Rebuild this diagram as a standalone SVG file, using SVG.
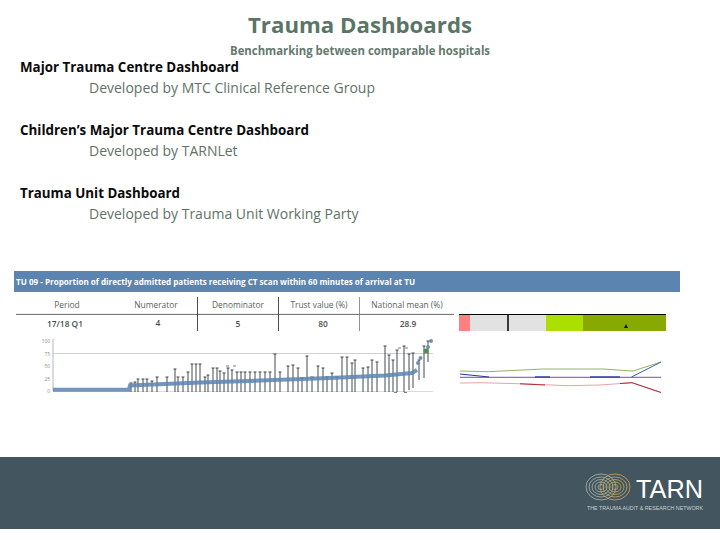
<svg xmlns="http://www.w3.org/2000/svg" width="720" height="540" viewBox="0 0 720 540">
<style>
.h{font-family:"Open Sans","DejaVu Sans",sans-serif;font-weight:700;font-size:14px;fill:#0a0a0a}
.s{font-family:"Open Sans","DejaVu Sans",sans-serif;font-size:14px;fill:#5f7268}
.t{font-family:"Open Sans",sans-serif;font-size:8.4px;fill:#5a5f60;text-anchor:middle}
.v{font-family:"Open Sans",sans-serif;font-size:8.4px;font-weight:600;fill:#4a4f50;text-anchor:middle}
.a{font-family:"Open Sans",sans-serif;font-size:4.8px;fill:#888;text-anchor:end}
.e{stroke:#2c3640;stroke-width:.9;fill:none}
.g{fill:none;stroke-width:.8}
</style>
<rect width="720" height="540" fill="#fff"/>
<g id="title">
<text x="248" y="33" font-family="Open Sans,sans-serif" font-size="22" font-weight="700" fill="#5a7565" textLength="224" lengthAdjust="spacingAndGlyphs">Trauma Dashboards</text>
<text x="230" y="55" font-family="Open Sans,sans-serif" font-size="12.500" font-weight="700" fill="#66796e" textLength="260" lengthAdjust="spacingAndGlyphs">Benchmarking between comparable hospitals</text>
</g>
<g id="list">
<text class="h" x="20" y="72" textLength="219" lengthAdjust="spacingAndGlyphs">Major Trauma Centre Dashboard</text>
<text class="s" x="89" y="93">Developed by MTC Clinical Reference Group</text>
<text class="h" x="20" y="135" textLength="289" lengthAdjust="spacingAndGlyphs">Children’s Major Trauma Centre Dashboard</text>
<text class="s" x="89" y="156">Developed by TARNLet</text>
<text class="h" x="20" y="198" textLength="160" lengthAdjust="spacingAndGlyphs">Trauma Unit Dashboard</text>
<text class="s" x="89" y="219">Developed by Trauma Unit Working Party</text>
</g>
<g id="table">
<rect x="14" y="271" width="666" height="21" fill="#5b84b1"/>
<text x="16" y="285" font-family="Open Sans,sans-serif" font-size="8.600" font-weight="700" fill="#fff" textLength="399" lengthAdjust="spacingAndGlyphs">TU 09 - Proportion of directly admitted patients receiving CT scan within 60 minutes of arrival at TU</text>
<path d="M16 314.400H454" stroke="#444" stroke-width=".8"/>
<path d="M197.500 297V331M278.500 297V331" stroke="#222" stroke-width=".8"/>
<path d="M359.500 297V331" stroke="#777" stroke-width=".8"/>
<text class="t" x="67" y="308">Period</text><text class="t" x="156" y="308">Numerator</text><text class="t" x="238" y="308">Denominator</text><text class="t" x="319" y="308">Trust value (%)</text><text class="t" x="407" y="308">National mean (%)</text>
<text class="v" x="65" y="327">17/18 Q1</text><text class="v" x="158" y="326">4</text><text class="v" x="238" y="327">5</text><text class="v" x="323" y="327">80</text><text class="v" x="408" y="327">28.9</text>
</g>
<g id="bar">
<rect x="459" y="314" width="11" height="17" fill="#ff8080"/>
<rect x="470" y="314" width="76" height="17" fill="#e2e2e2"/>
<rect x="546" y="314" width="37" height="17" fill="#aadf00"/>
<rect x="583" y="314" width="83" height="17" fill="#88aa00"/>
<path d="M459 314.500H666" stroke="#000" stroke-width="1"/>
<path d="M508 314V331" stroke="#000" stroke-width="1.500"/>
<path d="M624 328H628L626 324Z" fill="#111"/>
</g>
<g id="funnel">
<path d="M53 339V391" stroke="#999" stroke-width=".7"/>
<path d="M53 353.500H433" stroke="#bbb" stroke-width=".7"/>
<path d="M53 391.500H433" stroke="#ccc" stroke-width=".7"/>
<text class="a" x="50" y="343">100</text><text class="a" x="50" y="356">75</text><text class="a" x="50" y="368">50</text><text class="a" x="50" y="381">25</text><text class="a" x="50" y="393">0</text>
<path class="e" d="M131 392V383m-1.500 0h3M135 392V382m-1.500 0h3M138 392V379m-1.500 0h3M143 392V379m-1.500 0h3M147 392V379m-1.500 0h3M152 392V381m-1.500 0h3M157 392V377m-1.500 0h3M167 392V377m-1.500 0h3M175 392V369m-1.500 0h3M178 392V377m-1.500 0h3M183 392V377m-1.500 0h3M188 392V372m-1.500 0h3M192 392V364m-1.500 0h3M196 392V364m-1.500 0h3M200 392V364m-1.500 0h3M205 392V377m-1.500 0h3M208 392V375m-1.500 0h3M213 392V368m-1.500 0h3M217 392V368m-1.500 0h3M220 392V371m-1.500 0h3M224 392V373m-1.500 0h3M228 392V368m-1.500 0h3M232 392V370m-1.500 0h3M237 392V372m-1.500 0h3M241 392V372m-1.500 0h3M245 392V372m-1.500 0h3M250 392V372m-1.500 0h3M255 392V372m-1.500 0h3M260 392V372m-1.500 0h3M265 392V372m-1.500 0h3M270 392V372m-1.500 0h3M275 392V354m-1.500 0h3M280 392V372m-1.500 0h3M288 392V366m-1.500 0h3M293 392V365m-1.500 0h3M298 392V368m-1.500 0h3M302 392V378m-1.500 0h3M307 392V356m-1.500 0h3M312 392V377m-1.500 0h3M318 392V366m-1.500 0h3M323 392V368m-1.500 0h3M327 392V377m-1.500 0h3M332 392V373m-1.500 0h3M337 392V377m-1.500 0h3M342 392V357m-1.500 0h3M347 392V357m-1.500 0h3M352 392V363m-1.500 0h3M355 392V360m-1.500 0h3M363 392V368m-1.500 0h3M368 392V367m-1.500 0h3M372 392V360m-1.500 0h3M377 392V362m-1.500 0h3M385 392V346m-1.500 0h3M389 392V355m-1.500 0h3M393 392V360m-1.500 0h3M397 392V350m-1.500 0h3M404 392V346m-1.500 0h3M409 390V354m-1.500 0h3M413 388V353m-1.500 0h3M419 380V360m-1.500 0h3M424 378V346m-1.500 0h3M428 362V341m-1.500 0h3"/>
<path d="M394 392.500h3M404 392.500h3M405 348h3M398 348h3M226 366h3M233 366h3" stroke="#3c4650" stroke-width=".7"/>
<path d="M53 389.800H129L130 385.500L200 382.500L260 380.500L330 378L385 375.500L412 373L417 370" fill="none" stroke="#5b84b1" stroke-opacity=".85" stroke-width="4"/>
<g fill="#6d91b8"><circle cx="418" cy="363" r="2"/><circle cx="420.500" cy="358" r="2"/><circle cx="428" cy="347" r="2"/><circle cx="431" cy="341" r="2"/></g>
<circle cx="426" cy="351" r="2.500" fill="#4e8f4e"/>
</g>
<g id="trends" fill="none">
<path d="M460 371L488 371.700L543 369L603 369L633 371L661 362" stroke="#88aa55" stroke-width=".9"/>
<path d="M460 374L489 377" stroke="#2233aa" stroke-width="1"/>
<path d="M460 377.300H661" stroke="#552288" stroke-width=".8"/>
<path d="M535 377H550M590 377H620" stroke="#3344aa" stroke-width="1.300"/>
<path d="M631.500 377L661 362" stroke="#336699" stroke-width="1"/>
<path d="M460 383L480 382.700L530 384L567 385.700L600 385L632 382.700L661 392.500" stroke="#e29aa0" stroke-width=".9"/>
<path d="M520 383.800L545 385M620 383.500L632 382.700L661 392.500" stroke="#aa1a2a" stroke-width=".9"/>
</g>
<g id="footer">
<rect y="457" width="720" height="72" fill="#43565f"/>
<g class="g" stroke="#a9b8a8"><ellipse cx="601" cy="487" rx="15" ry="13"/><ellipse cx="601" cy="487" rx="12" ry="10"/><ellipse cx="601" cy="487" rx="9" ry="7.500"/><ellipse cx="601" cy="487" rx="6" ry="5"/><ellipse cx="601" cy="487" rx="3" ry="2.500"/></g>
<g class="g" stroke="#c9a75c"><ellipse cx="615" cy="487" rx="15" ry="13"/><ellipse cx="615" cy="487" rx="12" ry="10"/><ellipse cx="615" cy="487" rx="9" ry="7.500"/><ellipse cx="615" cy="487" rx="6" ry="5"/><ellipse cx="615" cy="487" rx="3" ry="2.500"/></g>
<text x="636" y="498" font-family="Liberation Sans,sans-serif" font-size="25" fill="#fff" textLength="67" lengthAdjust="spacingAndGlyphs">TARN</text>
<text x="587" y="510" font-family="Liberation Sans,sans-serif" font-size="5" fill="#c5ced2" textLength="116" lengthAdjust="spacingAndGlyphs">THE TRAUMA AUDIT &amp; RESEARCH NETWORK</text>
</g>
</svg>
